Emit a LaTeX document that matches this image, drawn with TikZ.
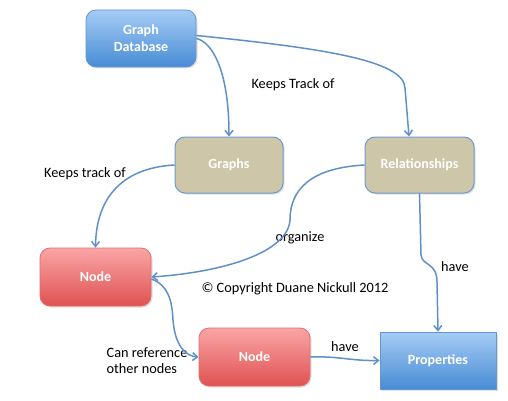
\documentclass[tikz,border=0pt]{standalone}
\usepackage{fontspec}
\setmainfont{Carlito}
\usetikzlibrary{arrows.meta,shadows}
\definecolor{edgeblue}{RGB}{95,145,200}
\definecolor{bluetop}{RGB}{165,204,246}
\definecolor{bluebot}{RGB}{72,140,212}
\definecolor{redtop}{RGB}{250,165,165}
\definecolor{redbot}{RGB}{224,82,82}
\definecolor{tanfill}{RGB}{206,198,168}
\definecolor{tanborder}{RGB}{110,155,205}
\definecolor{blueborder}{RGB}{100,150,210}
\definecolor{redborder}{RGB}{225,110,110}
\tikzset{
  x=1pt,y=-1pt,
  box/.style={minimum width=110pt,minimum height=57pt,rounded corners=10pt,
    text=white,font=\fontsize{14}{17}\selectfont\bfseries,align=center,
    drop shadow={shadow xshift=1.5pt,shadow yshift=-1.5pt,opacity=0.25}},
  bluebox/.style={box,draw=blueborder,line width=0.8pt,top color=bluetop,bottom color=bluebot},
  tanbox/.style={box,draw=tanborder,line width=1pt,fill=tanfill},
  redbox/.style={box,draw=redborder,line width=0.8pt,top color=redtop,bottom color=redbot},
  conn/.style={draw=edgeblue,line width=1.5pt,-{Straight Barb[length=5pt,width=8pt]}},
  lbl/.style={font=\fontsize{14.3}{16}\selectfont,text=black,inner sep=0pt}
}
\begin{document}
\begin{tikzpicture}
\useasboundingbox (0,0) rectangle (508,401);
\node[bluebox] (gd) at (141,38.5) {Graph\\Database};
\node[tanbox,minimum width=108pt,minimum height=56pt] (graphs) at (229,165) {Graphs};
\node[tanbox,minimum width=109pt,minimum height=56pt] (rel) at (419.5,165) {Relationships};
\node[redbox,minimum width=111pt,minimum height=58pt] (n1) at (95.5,277) {Node};
\node[redbox,minimum width=111pt,minimum height=58pt] (n2) at (254.5,357) {Node};
\node[bluebox,rounded corners=0pt,minimum width=116pt,minimum height=57pt] (prop) at (438,360.5) {Properties};

\node[lbl] (l1) at (293,85) {Keeps Track of};
\node[lbl] (l2) at (85,174) {Keeps track of};
\node[lbl] (l3) at (300,238) {organize};
\node[lbl] (l4) at (455,267) {have};
\node[lbl] (l5) at (345,347) {have};
\node[lbl,align=left] (l6) at (147,361) {Can reference\\other nodes};
\node[lbl] (copy) at (295,289) {© Copyright Duane Nickull 2012};

\draw[conn] (gd.east) .. controls (212,42) and (229,70) .. (graphs.north);
\draw[conn] ([yshift=3pt]gd.east) .. controls (320,48) and (404,60) .. (405,88) -- ([xshift=-10.5pt]rel.north);
\draw[conn] (graphs.west) .. controls (120,168) and (96,200) .. (n1.north);
\draw[conn] (rel.west) .. controls (310,168) and (290,190) .. (290,220) .. controls (288,252) and (225,272) .. (n1.east);
\draw[conn] (rel.south) -- (421,255) .. controls (422,266) and (437,262) .. (437,282) -- (prop.north);
\draw[conn] ([yshift=-2pt]n1.east) .. controls (168,285) and (172,300) .. (173,320) .. controls (175,345) and (185,356) .. (n2.west);
\draw[conn] (n2.east) .. controls (340,356) and (350,361) .. (prop.west);
\end{tikzpicture}
\end{document}
